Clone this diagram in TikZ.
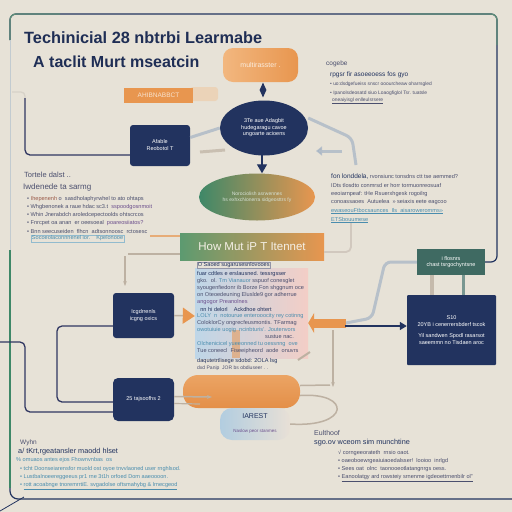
\documentclass[tikz,border=0pt]{standalone}
\usepackage{fontspec}
\setmainfont{Liberation Sans}
\usetikzlibrary{shapes.geometric,arrows.meta}
\definecolor{bgc}{HTML}{E7E2D7}
\definecolor{navy}{HTML}{22335F}
\definecolor{navyl}{HTML}{303661}
\definecolor{orng}{HTML}{E8964F}
\definecolor{orngl}{HTML}{F2B77F}
\definecolor{tealc}{HTML}{3F6A62}
\definecolor{grn}{HTML}{3E8868}
\definecolor{grnf}{HTML}{5E8E78}
\definecolor{paleline}{HTML}{C2CBD0}
\definecolor{hookc}{HTML}{D7D2C8}
\definecolor{txtc}{HTML}{4B4F6E}
\definecolor{ribc}{HTML}{A3B2C4}
\definecolor{greyc}{HTML}{BDB1A2}
\definecolor{bluet}{HTML}{4A8DAE}
\definecolor{purt}{HTML}{6B4E8C}
\definecolor{brownt}{HTML}{9A5A48}
\definecolor{otext}{HTML}{FAECDE}
\definecolor{otext2}{HTML}{F7E2CE}
\definecolor{gtext}{HTML}{D6E2D6}
\definecolor{btext}{HTML}{F5F0E6}
\definecolor{midy}{HTML}{D6B062}
\definecolor{bangr}{HTML}{5C9A70}
\definecolor{cbl}{HTML}{BED6E8}
\definecolor{cbr}{HTML}{F3CEC6}
\definecolor{obt}{HTML}{EBA464}
\definecolor{obb}{HTML}{E48F48}
\definecolor{pbl}{HTML}{B2CDE0}
\definecolor{pbr}{HTML}{E8E0D6}
\begin{document}
\begin{tikzpicture}[x=1pt,y=-1pt,
  navybox/.style={fill=navy, rounded corners=3pt, text=white, align=center,
    font=\fontsize{5.5}{7}\selectfont, inner sep=1pt},
  txt/.style={anchor=west, text=txtc, font=\fontsize{5.6}{6}\selectfont, inner sep=0pt},
  ctx/.style={anchor=west, text=txtc, font=\fontsize{5.6}{6}\selectfont, inner sep=0pt},
  hd/.style={anchor=west, text=navy, font=\fontsize{7.5}{8}\selectfont, inner sep=0pt},
  navyline/.style={draw=navyl, line width=1.3pt, rounded corners=5pt},
  ribbon/.style={draw=ribc, line width=3pt, opacity=0.7, rounded corners=6pt},
  greyline/.style={draw=greyc, line width=1.8pt, rounded corners=5pt}
  ]
\useasboundingbox (0,0) rectangle (512,512);
\fill[bgc] (0,0) rectangle (512,512);

% ---------- nodes ----------
\node[fill=tealc, minimum width=68pt, minimum height=26pt, inner sep=1pt, text=white,
  align=center, font=\fontsize{5.5}{6.5}\selectfont] (teal) at (451,262) {i flosnrs\\chast tsrgochyntsne};
\node[navybox, rounded corners=1pt, minimum width=89pt, minimum height=70pt] (rbox) at (451.5,330)
  {S10\\20YB i cenerrersbderf tscok\\[4pt]Yil sandwen Spodl rasarsot\\saeemmn no Tisdaen aroc};

% frame
\draw[navy, line width=1.2pt, rounded corners=6pt] (10,40) -- (10,14) -- (497,14) -- (497,262) -- (teal.east);
\draw[grnf, line width=1.3pt, rounded corners=6pt] (10,40) -- (10,14) -- (60,14);
\draw[grnf, line width=1.3pt, rounded corners=6pt] (410,14) -- (497,14) -- (497,45);
\draw[paleline, line width=1pt] (10,40) -- (10,250);
\draw[grn, line width=1.2pt] (10,250) -- (10,488);
\draw[navy, line width=1.2pt, rounded corners=8pt] (10,488) -- (10,499) -- (512,499);
\draw[navy, line width=0.8pt] (0,511) -- (24,497);

% title
\node[anchor=west, text=navy!90!black, font=\fontsize{16.3}{17}\selectfont\bfseries, inner sep=0pt] (t1) at (24,38) {Techinicial 28 nbtrbi Learmabe};
\node[anchor=west, text=navy!90!black, font=\fontsize{16}{17}\selectfont\bfseries, inner sep=0pt] (t2) at (33,62) {A taclit Murt mseatcin};

% orange box
\node[rounded corners=10pt, left color=orngl, right color=orng, minimum width=75pt, minimum height=34pt,
  text=otext, font=\fontsize{7}{8}\selectfont] (obox) at (260.5,65) {multirasster .};
% label
\fill[orngl!35!bgc, rounded corners=3pt] (190,87) rectangle (218,101);
\node[fill=orng, minimum width=69pt, minimum height=15pt, inner sep=0pt,
  text=otext2, font=\fontsize{6.5}{7}\selectfont] (lab) at (158.5,95.5) {AHIBNABBCT};
% diamond
\node[diamond, aspect=0.5, fill=navy, minimum width=7pt, minimum height=15pt, inner sep=0pt] (dia) at (263,90) {};

% ellipse
\node[ellipse, fill=navy, minimum width=88pt, minimum height=55pt, inner sep=0pt, text=white, align=center,
  font=\fontsize{5.5}{6.5}\selectfont] (ell) at (264,128) {3Te aue Adagbit\\hudegaragu cavoe\\ungoarte acioens};
% afable box
\node[navybox, minimum width=60pt, minimum height=41pt] (afable) at (160,145.5) {Afable\\Reobotol T};

% gradient oval
\node[ellipse, left color=grn, middle color=midy, right color=orng,
  minimum width=116pt, minimum height=47pt, inner sep=0pt, align=center,
  text=gtext, font=\fontsize{5}{6}\selectfont] (goval) at (257,197)
  {Norociolish asrwennes\\hs exhxcNonerra sidgeosttrs fy};
% banner
\node[left color=bangr, right color=orng, minimum width=144pt, minimum height=27pt,
  text=btext, font=\fontsize{11.5}{12}\selectfont] (banner) at (252,246.5) {How Mut iP T Itennet};

% central block
\node[left color=cbl, right color=cbr, minimum width=113pt, minimum height=90pt, inner sep=0pt] (cblock) at (251.5,313) {};
\fill[orng, opacity=0.55] (232,330) rectangle (240,358);

% left boxes
\node[navybox, minimum width=61pt, minimum height=45pt] (box2) at (143.5,315.5) {Icgdrrenls\\icgng oxics};
\node[navybox, rounded corners=5pt, minimum width=61pt, minimum height=43pt] (box3) at (143.5,399.5) {25 tajsoofhs 2};

% bottom blobs
\node[rounded corners=15pt, top color=obt, bottom color=obb,
  minimum width=117pt, minimum height=33pt] (oblob) at (241.5,391.5) {};
\node[rounded corners=12pt, left color=pbl, right color=pbr,
  minimum width=70pt, minimum height=32pt, align=center, inner sep=0pt] (pblob) at (255,424)
  {{\fontsize{7}{8}\selectfont\color{navy}IAREST}\\[2pt]{\fontsize{4.5}{5}\selectfont\color{purt}Naslow peor stanmes}};

% ---------- connectors ----------
\coordinate (h0) at (12,92);
\coordinate (h1) at (25,92);
\draw[hookc, line width=1.3pt, rounded corners=4pt] (h0) -- (h1) -- (25,100);
\draw[navyline] (25,98) -- (25,155) -- ([yshift=-9.5pt]afable.west);

\coordinate (l0) at (0,342);
\coordinate (l1) at (25,342);
\draw[navyline] (l0) -- (l1) -- (25,412) -- ([yshift=-12.5pt]box3.west);
\coordinate (m1) at (57,326);
\draw[navyline] ([yshift=-10.5pt]box2.west) -- (m1) -- (57,402) -- ([yshift=-2.5pt]box3.west);

\coordinate (ellb) at (262,155);
\draw[navy, line width=1.3pt, -{Triangle[width=10pt,length=9pt]}] (ellb) -- (ellb |- goval.north);

% ribbons near ellipse
\draw[ribbon] ([yshift=8pt]afable.east) .. controls (205,133) .. (ell.west);
\coordinate (rb1) at (200,152);
\coordinate (rb2) at (225,150);
\draw[ribbon, draw=greyc] (rb1) -- (rb2);
\coordinate (re1) at (352,138);
\coordinate (re2) at (356,165);
\draw[ribbon] ([yshift=10pt]ell.east) -- (re1) -- (re2);
\coordinate (ra1) at (342,151);
\coordinate (ra2) at (316,151);
\draw[ribbon, -{Triangle[width=9pt,length=6pt]}] (ra1) -- (ra2);

% left text to banner
\coordinate (lt1) at (128,254);
\draw[greyline] (lt1) -- ([yshift=-7.5pt]banner.west);
\coordinate (lt2) at (150,236);
\draw[orng, line width=2pt, opacity=0.7] (lt2) -- ([yshift=10.5pt]banner.west);
\coordinate (lt3) at (125,256);
\coordinate (lt4) at (125,286);
\draw[greyline, -{Stealth[length=5pt]}] (lt3) -- (lt4);
\coordinate (rt1) at (351,223);
\coordinate (rt2) at (351,252);
\draw[greyline, draw=greyc!70] (rt1) -- (rt2) -- ([yshift=-5.5pt]banner.east);

% arrows to/from central block
\draw[greyc, line width=1.5pt, -{Triangle[width=16pt,length=12pt,color=orng,fill=orng]}] (box2.east) -- ([yshift=-3pt]cblock.west);
\coordinate (oa) at (346,323);
\draw[orng, line width=9pt, -{Triangle[width=20pt,length=6pt]}] (oa) -- ([yshift=-10pt]cblock.east);
\coordinate (oa2) at (372,318);
\coordinate (oa3) at (385,262);
\draw[ribbon] (oa) -- (oa2) -- (oa3) -- (teal.west);
\coordinate (na) at (345,326);
\draw[navy, line width=1.4pt, -{Triangle[width=8pt,length=7pt]}] (na) -- (rbox.west |- na);
\draw[greyc, line width=4pt, opacity=0.8] ([xshift=-19pt]teal.south) -- ([xshift=-19.5pt]rbox.north);
\draw[tealc!70, line width=3pt] ([xshift=12pt]teal.south) -- ([xshift=11.5pt]rbox.north);
\coordinate (da1) at (333,330);
\coordinate (da2) at (333,387);
\draw[greyc, line width=1.5pt, -{Stealth[length=5pt]}] (da1) -- (da2);
\coordinate (cb1) at (298,360);
\coordinate (cb2) at (310,352);
\draw[greyc, line width=2pt] (cb1) -- (cb2);

% bottom connectors
\coordinate (b3a) at (212,397);
\draw[greyc, line width=1.5pt, -{Stealth[length=5pt]}] ([yshift=3pt]box3.east) -- (b3a);
\coordinate (b3b) at (200,404);
\draw[greyc, line width=1.2pt] ([yshift=-4pt]box3.east) -- (b3b);
\draw[greyc, line width=1.5pt] ([yshift=-4pt]oblob.east) .. controls (352,392) and (350,428) .. (pblob.east);
\coordinate (ob1) at (330,385);
\draw[greyc, line width=1.5pt] ([yshift=6pt]oblob.east) -- (ob1);

% ---------- texts ----------
% right top
\node[txt, font=\fontsize{6.5}{7}\selectfont] (rt0) at (326,64) {cogebe};
\node[txt, text=navy, font=\fontsize{6.5}{7}\selectfont] (rta) at (330,75) {rpgsr fir asoeeoess fos gyo};
\node[txt, font=\fontsize{4.9}{6}\selectfont] (rtb) at (330,84) {• uo:dsdgefueiss snscr ooourcheaw oharrsgled};
\node[txt, font=\fontsize{4.9}{6}\selectfont] (rtc) at (330,93) {• Ipanolsdeosatd siuo Loaogfiglol Tsr. tuatsle};
\node[txt, font=\fontsize{4.9}{6}\selectfont] (rtd) at (332,101) {\underline{oneaiyisgl enlleulsrsere}};

% right middle
\node[txt] (rm1) at (331,177) {{\fontsize{6.5}{7}\selectfont\color{navy}fon londdela,} rvonsiunc tonsdns ctt tse aemmed?};
\node[txt] (rm2) at (331,185.5) {IDts tlosdto conmrsd er horr tormuonreosuaf};
\node[txt] (rm3) at (331,194) {eeoiarnpeaf: tHe Rsuerxhgesk rogoilrg};
\node[txt] (rm4) at (331,202.5) {conoassaoes\ \ Autuelea\ \ » seiaxis eete eagcoo};
\node[txt, text=bluet] (rm5) at (331,211) {\underline{ewaseouFtbocsaunces\ \ Ils\ \ aisaroweromms»}};
\node[txt, text=bluet] (rm6) at (331,220) {\underline{ETSbouumese}};

% left text
\node[hd, text=txtc] (lh1) at (24,175) {Tortele dalst ..};
\node[hd, text=txtc, font=\fontsize{8}{9}\selectfont] (lh2) at (23,187) {Iwdenede ta sarmg};
\node[txt] (lb1) at (27,199) {• {\color{brownt}Ihepenenh} o\ \ sasdholaphyrwhel to ato ohtaps};
\node[txt] (lb2) at (27,207) {• Whgbenonek a raue hdac sc3.t\ \ {\color{purt}sspoodgosnmoit}};
\node[txt] (lb3) at (27,215) {• Whin Jnerabdch aroledcepectoolds ohtscrcos};
\node[txt] (lb4) at (27,223) {• Fnrcpet oa anan\ \ er oeesoeal\ \ {\color{purt}poareosiiatos?}};
\node[txt] (lb5) at (27,231) {• Bnn seecuseiden\ \ flhcn\ \ adtsonnoosc\ \ rctosesc};
\node[txt, text=bluet, draw=bluet!60, line width=0.3pt, inner sep=0.8pt] (lb6) at (31,238.5) {Socoeolaconnnenel ior.\ \ \ \ Kpelonooe};

% central block text
\node[ctx, text=navy, draw=txtc!60, line width=0.3pt, inner sep=0.6pt] (c1) at (197,265) {O Saoed sugarusesnlovooes};
\node[ctx, text=navy] (c2) at (197,274) {fuar cdtles e erslausned. tessrgsser};
\node[ctx] (c3) at (197,281) {gko.\ \ ol. {\color{bluet}Tm Vianauor} sspuof conesglet};
\node[ctx] (c4) at (197,288) {syougenfiedonr ib Borze Fon shggnum oce};
\node[ctx] (c5) at (197,295) {on Oteoedeuning Eluslde9 gor adherrue};
\node[ctx, text=purt] (c6) at (197,302) {angogor Preanolnes};
\node[ctx, text=navy] (c7) at (197,309) {\ \ nn hi delorl\ \ \ \ Ackdhoe ohtert};
\node[ctx, text=bluet] (c8) at (197,316) {LOLY\ \ n\ \ notourue enterooocity rey cotinng};
\node[ctx] (c9) at (197,323) {ColoklorCy ongrecfeusmontis. TFarmag};
\node[ctx, text=bluet] (c10) at (197,330) {owotuiuie uogig\ \ ncinbturis'. Joutenvors};
\node[ctx] (c11) at (265,337) {sustue nac.};
\node[ctx, text=bluet] (c12) at (197,344) {Olchenicicel yueeonned tu oessnng\ \ ove};
\node[ctx] (c13) at (197,351) {Tue coneecl\ \ Fiseeipheord\ \ aode\ \ onuvrs};
\node[ctx, text=navy] (c14) at (197,361) {daqutetrtlisege sdobd: 2OLA lsg};
\node[ctx, font=\fontsize{5}{6}\selectfont] (c15) at (197,368) {dxd Panip\ \ JOR bs obdiuseer . .};

% bottom left
\node[txt, font=\fontsize{6.5}{7}\selectfont] (bl0) at (20,443) {Wyhn};
\node[hd, font=\fontsize{7.3}{8}\selectfont] (bl1) at (18,452) {a/ tKrt,rgeatansler maodd hlset};
\node[txt, text=bluet] (bl2) at (16,460.5) {\% omuaos antes ejos Fhownvnbas\ \ os};
\node[txt, text=bluet] (bl3) at (20,469) {• tcht Doonseiarensfor muold ost oyoe tnvvlaoned user rnghlsod.};
\node[txt, text=bluet] (bl4) at (20,477.5) {• Lustbalnoeereggeeus pr1 rne 3t1h orfoed Dom aaeoooon.};
\node[txt, text=bluet] (bl5) at (20,486) {• \underline{rott acoabnge tnoremrrtiE. svgadolse oftsmahybg \& lrnecgeod}};

% bottom right
\node[txt, font=\fontsize{7}{8}\selectfont] (br0) at (314,433) {Eulthoof};
\node[hd, font=\fontsize{7.3}{8}\selectfont] (br1) at (314,443) {sgo.ov wceom sim munchtine};
\node[txt] (br2) at (338,453) {√ corngeeorateth\ \ rnsio oaot.};
\node[txt] (br3) at (338,461) {• oaeoboewrgeaiuiaoedalsser!\ \ looioo\ \ inrlgd};
\node[txt] (br4) at (338,469.5) {• Sees oat\ \ olnc\ \ taonooeotlatangnrgs oess.};
\node[txt] (br5) at (338,478) {• \underline{Eanoolatgy ard rowsteiy srnenme igdeoettrnenbilr ol"}};
\end{tikzpicture}
\end{document}
